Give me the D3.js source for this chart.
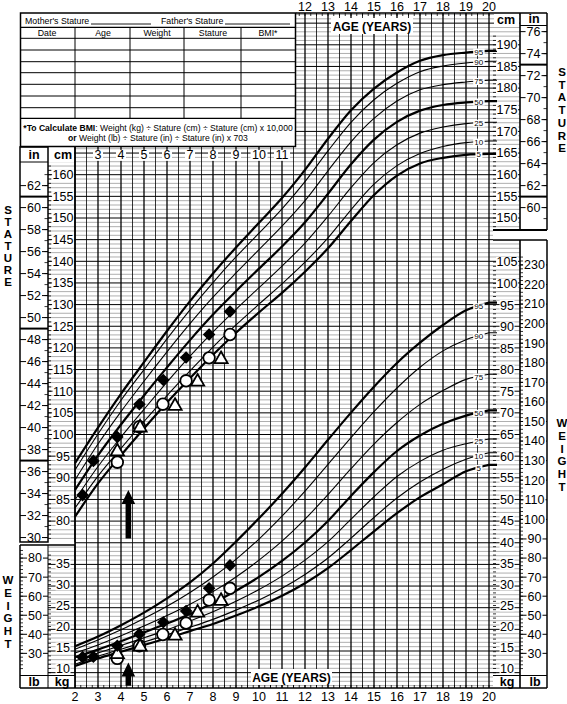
<!DOCTYPE html>
<html>
<head>
<meta charset="utf-8">
<script src="https://cdn.jsdelivr.net/npm/d3@7"></script>
<style>
body { margin: 0; background: #fff; }
svg { display: block; font-family: "Liberation Sans", Arial, sans-serif; }
</style>
</head>
<body>
<svg width="567" height="704"></svg>
<script>
// percentile curves, ages 2..20
var curveAges = d3.range(2, 21);
var pctNames = [5, 10, 25, 50, 75, 90, 95];

var statureP5  = [81.0, 88.7, 95.2, 101.4, 107.4, 113.0, 118.4, 123.5, 128.2, 132.7, 137.6, 143.0, 149.3, 155.3, 159.8, 162.6, 163.9, 164.6, 164.8];
var statureP10 = [83.0, 90.4, 96.8, 103.0, 109.0, 114.7, 120.2, 125.3, 130.1, 134.8, 139.8, 145.4, 151.9, 157.8, 162.1, 164.9, 166.5, 167.4, 167.8];
var statureP25 = [84.9, 92.6, 99.4, 105.8, 112.1, 118.1, 123.7, 128.9, 133.9, 138.9, 144.2, 150.4, 157.0, 162.8, 166.9, 169.6, 171.0, 171.8, 172.1];
var statureP50 = [87.2, 95.2, 102.3, 109.0, 115.5, 121.8, 127.7, 133.1, 138.3, 143.4, 149.0, 155.6, 162.4, 168.1, 172.2, 174.8, 176.1, 176.7, 177.0];
var statureP75 = [89.5, 97.8, 105.3, 112.3, 119.1, 125.6, 131.7, 137.3, 142.7, 148.1, 154.0, 160.9, 167.6, 173.0, 177.0, 179.6, 180.8, 181.4, 181.8];
var statureP90 = [91.8, 100.1, 107.9, 115.0, 122.1, 128.8, 135.1, 141.0, 146.5, 152.1, 158.4, 165.5, 172.1, 177.3, 181.1, 183.8, 185.1, 185.8, 186.2];
var statureP95 = [93.4, 101.6, 109.4, 116.7, 123.9, 130.8, 137.2, 143.2, 148.9, 154.6, 161.1, 168.3, 174.9, 179.9, 183.6, 186.3, 187.6, 188.2, 188.6];

var weightP5  = [10.6, 12.4, 14.0, 15.6, 17.2, 18.9, 20.6, 22.6, 24.8, 27.3, 30.3, 33.9, 38.2, 42.6, 46.8, 50.5, 53.5, 56.5, 58.0];
var weightP10 = [11.0, 12.9, 14.6, 16.3, 18.0, 19.8, 21.7, 23.9, 26.3, 29.1, 32.4, 36.3, 41.0, 45.8, 50.3, 54.0, 57.0, 59.3, 60.8];
var weightP25 = [11.8, 13.7, 15.5, 17.3, 19.2, 21.3, 23.5, 26.0, 28.8, 32.0, 35.8, 40.2, 45.4, 50.6, 55.3, 58.8, 61.4, 62.9, 64.0];
var weightP50 = [12.7, 14.5, 16.5, 18.6, 20.7, 23.0, 25.6, 28.5, 31.8, 35.6, 40.0, 45.0, 50.8, 56.3, 61.2, 64.8, 67.5, 69.4, 70.6];
var weightP75 = [13.7, 15.6, 17.8, 20.1, 22.6, 25.3, 28.3, 31.8, 35.8, 40.3, 45.4, 51.1, 57.1, 62.8, 67.8, 72.0, 75.2, 77.8, 79.0];
var weightP90 = [14.6, 16.8, 19.2, 21.9, 24.8, 28.1, 31.8, 36.0, 40.8, 46.1, 51.9, 58.1, 64.3, 70.3, 75.8, 80.6, 84.4, 87.0, 88.6];
var weightP95 = [15.3, 17.6, 20.3, 23.3, 26.7, 30.5, 35.0, 40.2, 45.6, 51.3, 57.4, 63.8, 70.1, 76.1, 81.6, 86.3, 90.4, 93.8, 95.6];

// plotted measurements
var diamondAges    = [2.33, 2.8, 3.84, 4.8, 5.84, 6.83, 7.83, 8.74];
var diamondStature = [86.0, 93.9, 99.4, 107.0, 112.6, 117.8, 123.1, 128.4];
var diamondWeight  = [12.7, 12.8, 15.4, 18.2, 21.0, 23.7, 29.1, 34.6];

var circleAges    = [3.84, 4.8, 5.82, 6.83, 7.83, 8.74];
var circleStature = [93.6, 101.8, 107.0, 112.4, 117.7, 123.1];
var circleWeight  = [12.4, 15.4, 18.1, 20.8, 26.3, 29.1];

var triangleAges    = [3.84, 4.83, 6.35, 7.33, 8.35];
var triangleStature = [96.3, 101.8, 106.8, 112.4, 117.6];
var triangleWeight  = [13.6, 15.4, 18.0, 23.5, 26.3];

var arrowAge = 4.32;
var statureArrow = [76.0, 87.2]; // cm, base -> tip
var weightArrow = [5.9, 11.4];   // kg, base -> tip

// tick labels
var topAges = d3.range(12, 21);
var innerAges = d3.range(3, 12);
var bottomAges = d3.range(2, 21);
var cmLeft = d3.range(80, 161, 5);
var cmRight = d3.range(150, 191, 5);
var inLeft = d3.range(30, 63, 2);
var inRight = d3.range(60, 77, 2);
var footLeft = [37, 49, 61];
var footRight = [61, 73];
var kgLeft = d3.range(10, 36, 5);
var lbLeft = d3.range(30, 81, 10);
var kgRight = d3.range(10, 106, 5);
var lbRight = d3.range(30, 231, 10);

var svg = d3.select("svg");

var x = d3.scaleLinear().domain([2, 20]).range([75, 489]);
var yS = d3.scaleLinear().domain([150, 190]).range([218, 44.8]);
var yW = d3.scaleLinear().domain([10, 40, 105]).range([668.5, 542.5, 262]);

var TOP = 13, BOTTOM = 688;

// ---- grid ----
var grid = svg.append("g");
d3.range(42, 198).forEach(function (c) {
  grid.append("line")
    .attr("x1", 48).attr("x2", 520)
    .attr("y1", yS(c)).attr("y2", yS(c))
    .attr("stroke", c % 5 == 0 ? "#000" : "#8c8c8c")
    .attr("stroke-width", c % 5 == 0 ? 1 : 0.7);
});
d3.range(2, 20.01, 0.5).forEach(function (a) {
  grid.append("line")
    .attr("x1", x(a)).attr("x2", x(a))
    .attr("y1", TOP).attr("y2", BOTTOM)
    .attr("stroke", "#000")
    .attr("stroke-width", a % 1 == 0 ? 1.3 : 0.8);
});

// white panels over the grid
svg.append("rect").attr("x", 0).attr("y", 0).attr("width", 296).attr("height", 147).attr("fill", "#fff");
svg.append("rect").attr("x", 20).attr("y", 147).attr("width", 28).attr("height", 541).attr("fill", "#fff");
svg.append("rect").attr("x", 520).attr("y", 13).attr("width", 27).attr("height", 675).attr("fill", "#fff");
svg.append("rect").attr("x", 493).attr("y", 230).attr("width", 27).attr("height", 10).attr("fill", "#fff");
svg.append("rect").attr("x", 20).attr("y", 542).attr("width", 55).attr("height", 3).attr("fill", "#fff");

// ---- curves ----
var statureSets = [statureP5, statureP10, statureP25, statureP50, statureP75, statureP90, statureP95];
var weightSets = [weightP5, weightP10, weightP25, weightP50, weightP75, weightP90, weightP95];

function drawCurves(sets, y) {
  var line = d3.line().x(function (d) { return x(d[0]); }).y(function (d) { return y(d[1]); })
    .curve(d3.curveMonotoneX);
  var g = svg.append("g");
  sets.forEach(function (vals, i) {
    var pts = curveAges.map(function (a, j) { return [a, vals[j]]; });
    var thick = pctNames[i] == 5 || pctNames[i] == 50 || pctNames[i] == 95;
    g.append("path")
      .attr("d", line(pts) + "H" + (x(20) + 8))
      .attr("fill", "none").attr("stroke", "#000")
      .attr("stroke-width", thick ? 2.2 : 1.1);
    // label near age 19.5
    var v = (vals[17] + vals[18]) / 2;
    var t = g.append("text").attr("x", x(19.55)).attr("y", y(v)).attr("dy", "0.35em")
      .attr("text-anchor", "middle").attr("font-size", 8).text(pctNames[i]);
    var b = t.node().getBBox();
    g.insert("rect", function () { return t.node(); })
      .attr("x", b.x - 1).attr("y", b.y + 1).attr("width", b.width + 2).attr("height", b.height - 2)
      .attr("fill", "#fff");
  });
}
drawCurves(statureSets, yS);
drawCurves(weightSets, yW);

// ---- helpers ----
function boxedText(g, cx, cy, txt, size, bold, pad) {
  pad = pad == null ? 1 : pad;
  var t = g.append("text").attr("x", cx).attr("y", cy).attr("dy", "0.35em")
    .attr("text-anchor", "middle").attr("font-size", size)
    .attr("font-weight", bold ? "bold" : null).text(txt);
  var b = t.node().getBBox();
  g.insert("rect", function () { return t.node(); })
    .attr("x", b.x - pad).attr("y", b.y + 1.5).attr("width", b.width + 2 * pad).attr("height", b.height - 3)
    .attr("fill", "#fff");
  return t;
}
function plainText(g, cx, cy, txt, size, bold) {
  return g.append("text").attr("x", cx).attr("y", cy).attr("dy", "0.35em")
    .attr("text-anchor", "middle").attr("font-size", size)
    .attr("font-weight", bold ? "bold" : null).text(txt);
}
function hline(g, x1, x2, y, w) {
  g.append("line").attr("x1", x1).attr("x2", x2).attr("y1", y).attr("y2", y)
    .attr("stroke", "#000").attr("stroke-width", w || 1);
}
function vline(g, xx, y1, y2, w) {
  g.append("line").attr("x1", xx).attr("x2", xx).attr("y1", y1).attr("y2", y2)
    .attr("stroke", "#000").attr("stroke-width", w || 1);
}

// ---- frame and axes ----
var ax = svg.append("g");

// age labels
topAges.forEach(function (a) { plainText(ax, x(a), 6.5, a, 12.5); });
bottomAges.forEach(function (a) { plainText(ax, x(a), 697, a, 12.5); });
innerAges.forEach(function (a) { boxedText(ax, x(a), 155, a, 12.5, false, 1.5); });

// quarter-year ticks on top and bottom borders
d3.range(2, 20.01, 0.25).forEach(function (a) {
  if (x(a) > 296) vline(ax, x(a), TOP, TOP + 3, 0.8);
  vline(ax, x(a), BOTTOM - 3, BOTTOM, 0.8);
});

// AGE (YEARS) boxes
ax.append("rect").attr("x", 331).attr("y", 18).attr("width", 82).attr("height", 16).attr("fill", "#fff");
plainText(ax, 372, 26.5, "AGE (YEARS)", 12, true);
ax.append("rect").attr("x", 251).attr("y", 669).attr("width", 81).attr("height", 16).attr("fill", "#fff");
plainText(ax, 291.5, 677.5, "AGE (YEARS)", 12, true);

// stature cm columns
cmLeft.forEach(function (c) { boxedText(ax, 63, yS(c), c, 12.5, false, 0.5); });
cmRight.forEach(function (c) { boxedText(ax, 507, yS(c), c, 12.5, false, 0.5); });
d3.range(76, 163).forEach(function (c) { hline(ax, 48, 51, yS(c), 0.8); });
d3.range(148, 193).forEach(function (c) { hline(ax, 493, 496, yS(c), 0.8); });

// weight kg columns
kgLeft.forEach(function (k) { boxedText(ax, 63, yW(k), k, 12.5, false, 0.5); });
kgRight.forEach(function (k) { boxedText(ax, 507, yW(k), k, 12.5, false, 0.5); });
d3.range(9, 38).forEach(function (k) { hline(ax, 48, 51, yW(k), 0.8); });
d3.range(9, 106).forEach(function (k) { hline(ax, 493, 496, yW(k), 0.8); });

// inch and pound columns
function inchColumn(vals, feet, x1, x2, lo, hi) {
  d3.range(lo, hi + 0.01, 1).forEach(function (v) { hline(ax, x2 - 3.5, x2, yS(v * 2.54), 0.8); });
  feet.forEach(function (v) { hline(ax, x1, x2, yS(v * 2.54), 2); });
  vals.forEach(function (v) {
    hline(ax, x1, x2, yS(v * 2.54), 1);
    boxedText(ax, (x1 + x2) / 2, yS(v * 2.54), v, 12.5, false, 1);
  });
}
inchColumn(inLeft, footLeft, 20, 48, 30, 63);
inchColumn(inRight, footRight, 520, 547, 59, 76);

function poundColumn(vals, x1, x2, lo, hi) {
  d3.range(lo, hi + 0.1, 2).forEach(function (v) { hline(ax, x1, x1 + 3, yW(v / 2.2046), 0.8); });
  vals.forEach(function (v) {
    hline(ax, x1, x2, yW(v / 2.2046), 1);
    boxedText(ax, (x1 + x2) / 2 + 1, yW(v / 2.2046), v, 12.5, false, 1);
  });
}
poundColumn(lbLeft, 20, 48, 22, 84);
poundColumn(lbRight, 520, 547, 22, 234);

// headers
ax.append("rect").attr("x", 48).attr("y", 147).attr("width", 26).attr("height", 15).attr("fill", "#fff");
plainText(ax, 34, 154.5, "in", 12.5, true);
plainText(ax, 63, 154.5, "cm", 12.5, true);
hline(ax, 20, 48, 162, 1);
ax.append("rect").attr("x", 494).attr("y", 14).attr("width", 25).attr("height", 13).attr("fill", "#fff");
plainText(ax, 506, 19.5, "cm", 12.5, true);
plainText(ax, 534, 19, "in", 12.5, true);
hline(ax, 520, 547, 25.5, 1);

// bottom lb / kg rows
ax.append("rect").attr("x", 48.5).attr("y", 675.5).attr("width", 26).attr("height", 12).attr("fill", "#fff");
ax.append("rect").attr("x", 493).attr("y", 675.5).attr("width", 26.5).attr("height", 12).attr("fill", "#fff");
plainText(ax, 34, 682, "lb", 12.5, true);
plainText(ax, 62, 682, "kg", 12.5, true);
plainText(ax, 507, 682, "kg", 12.5, true);
plainText(ax, 535, 682, "lb", 12.5, true);
hline(ax, 20, 75, 675.5, 1);
hline(ax, 493, 547, 675.5, 1);

// box outlines
ax.append("rect").attr("x", 20).attr("y", 147).attr("width", 28).attr("height", 395)
  .attr("fill", "none").attr("stroke", "#000").attr("stroke-width", 1.5);
hline(ax, 20, 75, 545, 1.5);
vline(ax, 20, 545, BOTTOM, 1.5);
vline(ax, 48, 545, BOTTOM, 1);
vline(ax, 75, 147, BOTTOM, 1.6);
hline(ax, 296, 547, TOP, 1.5);
vline(ax, 520, TOP, 230, 1.6);
vline(ax, 547, TOP, 230, 1.5);
hline(ax, 493, 547, 230, 2);
hline(ax, 493, 547, 240, 1.5);
vline(ax, 520, 240, BOTTOM, 1.6);
vline(ax, 547, 240, BOTTOM, 1.5);
hline(ax, 20, 547, BOTTOM, 1.5);

// vertical words
"STATURE".split("").forEach(function (c, i) {
  plainText(ax, 8, 210 + i * 12, c, 11.5, true);
  plainText(ax, 562, 72 + i * 12.7, c, 11.5, true);
});
"WEIGHT".split("").forEach(function (c, i) {
  plainText(ax, 8, 580 + i * 12.8, c, 11.5, true);
  plainText(ax, 562, 423 + i * 12.8, c, 11.5, true);
});

// ---- record table ----
var tb = svg.append("g").attr("font-size", 8.8);
tb.append("rect").attr("x", 20.5).attr("y", 13).attr("width", 275).attr("height", 133.5)
  .attr("fill", "#fff").attr("stroke", "#000").attr("stroke-width", 1.5);
tb.append("text").attr("x", 25).attr("y", 23.5).text("Mother's Stature");
hline(tb, 91, 151, 24, 0.9);
tb.append("text").attr("x", 161).attr("y", 23.5).text("Father's Stature");
hline(tb, 225, 290, 24, 0.9);
var tableCols = ["Date", "Age", "Weight", "Stature", "BMI*"];
var colCenters = [47, 103, 157, 213, 268];
tableCols.forEach(function (c, i) {
  tb.append("text").attr("x", colCenters[i]).attr("y", 36).attr("text-anchor", "middle").text(c);
});
[27.3, 38.3, 50, 61.7, 72.7, 84.3, 96, 107.7, 118.3].forEach(function (yy, i) {
  hline(tb, 20.5, 295.5, yy, i == 0 || i == 8 ? 1.3 : 1);
});
[75, 130, 184, 241].forEach(function (xx) { vline(tb, xx, 27.3, 118.3, 1); });
var f1 = tb.append("text").attr("x", 158).attr("y", 130.5).attr("text-anchor", "middle").attr("font-size", 8.6);
f1.append("tspan").attr("font-weight", "bold").text("*To Calculate BMI");
f1.append("tspan").text(": Weight (kg) \u00f7 Stature (cm) \u00f7 Stature (cm) x 10,000");
var f2 = tb.append("text").attr("x", 158).attr("y", 140.5).attr("text-anchor", "middle").attr("font-size", 8.6);
f2.append("tspan").attr("font-weight", "bold").text("or");
f2.append("tspan").text(" Weight (lb) \u00f7 Stature (in) \u00f7 Stature (in) x 703");

// ---- arrows ----
function arrow(base, tip) {
  var xx = x(arrowAge), head = 14, hw = 6.8, sw = 2.8;
  svg.append("path")
    .attr("d", "M" + (xx - sw) + "," + base + "V" + (tip + head) + "H" + (xx - hw) +
      "L" + xx + "," + tip + "L" + (xx + hw) + "," + (tip + head) + "H" + (xx + sw) + "V" + base + "Z")
    .attr("fill", "#000");
}
arrow(yS(statureArrow[0]), yS(statureArrow[1]));
arrow(yW(weightArrow[0]), yW(weightArrow[1]));

// ---- markers ----
var mk = svg.append("g");
function circles(ages, vals, y) {
  mk.selectAll(null).data(ages).enter().append("circle")
    .attr("cx", function (d) { return x(d); })
    .attr("cy", function (d, i) { return y(vals[i]); })
    .attr("r", 5.8).attr("fill", "#fff").attr("stroke", "#000").attr("stroke-width", 1.8);
}
function triangles(ages, vals, y) {
  mk.selectAll(null).data(ages).enter().append("path")
    .attr("d", "M0,-6.8L6.6,4.8L-6.6,4.8Z")
    .attr("transform", function (d, i) { return "translate(" + x(d) + "," + y(vals[i]) + ")"; })
    .attr("fill", "#fff").attr("stroke", "#000").attr("stroke-width", 1.8).attr("stroke-linejoin", "miter");
}
function diamonds(ages, vals, y) {
  mk.selectAll(null).data(ages).enter().append("path")
    .attr("d", "M0,-6.3L6.3,0L0,6.3L-6.3,0Z")
    .attr("transform", function (d, i) { return "translate(" + x(d) + "," + y(vals[i]) + ")"; })
    .attr("fill", "#000");
}
circles(circleAges, circleStature, yS);
triangles(triangleAges, triangleStature, yS);
diamonds(diamondAges, diamondStature, yS);
circles(circleAges, circleWeight, yW);
triangles(triangleAges, triangleWeight, yW);
diamonds(diamondAges, diamondWeight, yW);
</script>
</body>
</html>
